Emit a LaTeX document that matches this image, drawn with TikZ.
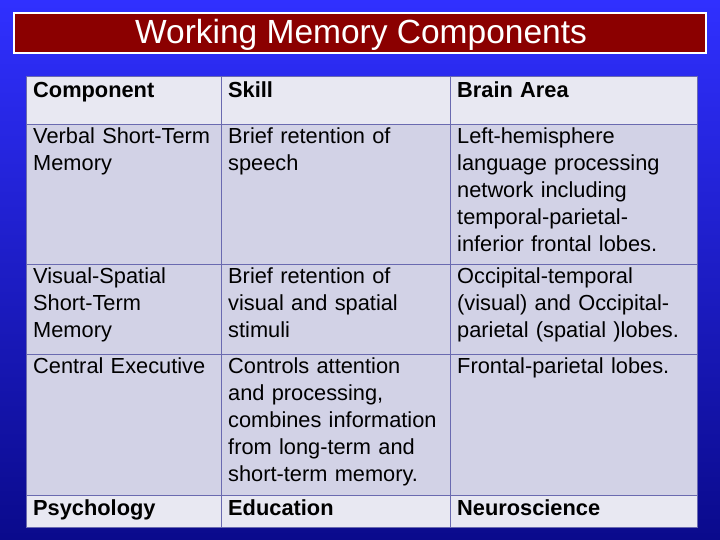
\documentclass[tikz,border=0pt]{standalone}
\usepackage{fontspec}
\setmainfont{Liberation Sans}
\begin{document}
\begin{tikzpicture}[x=1pt,y=-1pt,
  cell/.style={anchor=north west,align=left,inner sep=0pt,text width=#1,font=\fontsize{21.8}{27}\selectfont},
  hcell/.style={cell=#1,font=\fontsize{21.8}{27}\selectfont\bfseries}]
\definecolor{bgtop}{HTML}{3030FF}
\definecolor{bgbot}{HTML}{0A0A8C}
\definecolor{titlered}{HTML}{8B0000}
\definecolor{hfill}{HTML}{E8E8F2}
\definecolor{bfill}{HTML}{D2D2E6}
\definecolor{gridc}{HTML}{6A6AB0}
\useasboundingbox (0,0) rectangle (720,540);
\shade[top color=bgtop,bottom color=bgbot] (0,0) rectangle (720,540);
\fill[white] (13,12) rectangle (707,54);
\fill[titlered] (15,14) rectangle (705,52);
\node[text=white,font=\fontsize{33.5}{36}\selectfont] (title) at (361,35) {Working Memory Components};
\fill[hfill] (26,76) rectangle (697,124);
\fill[bfill] (26,124) rectangle (697,495);
\fill[hfill] (26,495) rectangle (697,527);
\draw[gridc,line width=0.8pt] (26,76) rectangle (697,527);
\foreach \y in {124,264,354,495} \draw[gridc,line width=0.8pt] (26,\y) -- (697,\y);
\foreach \x in {221,450} \draw[gridc,line width=0.8pt] (\x,76) -- (\x,527);
\node[hcell=190pt] (h1) at (33,82) {Component};
\node[hcell=220pt] (h2) at (228,82) {Skill};
\node[hcell=245pt] (h3) at (457,82) {Brain Area};
\node[cell=195pt] (a1) at (33,128) {Verbal Short-Term\\Memory};
\node[cell=225pt] (a2) at (228,128) {Brief retention of\\speech};
\node[cell=250pt] (a3) at (457,128) {Left-hemisphere\\language processing\\network including\\temporal-parietal-\\inferior frontal lobes.};
\node[cell=195pt] (b1) at (33,268) {Visual-Spatial\\Short-Term\\Memory};
\node[cell=225pt] (b2) at (228,268) {Brief retention of\\visual and spatial\\stimuli};
\node[cell=250pt] (b3) at (457,268) {Occipital-temporal\\(visual) and Occipital-\\parietal (spatial )lobes.};
\node[cell=195pt] (c1) at (33,358) {Central Executive};
\node[cell=225pt] (c2) at (228,358) {Controls attention\\and processing,\\combines information\\from long-term and\\short-term memory.};
\node[cell=250pt] (c3) at (457,358) {Frontal-parietal lobes.};
\node[hcell=190pt] (f1) at (33,500) {Psychology};
\node[hcell=220pt] (f2) at (228,500) {Education};
\node[hcell=245pt] (f3) at (457,500) {Neuroscience};
\end{tikzpicture}
\end{document}
